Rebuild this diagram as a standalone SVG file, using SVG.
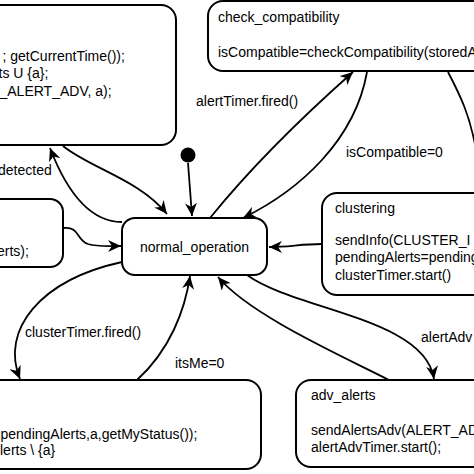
<svg xmlns="http://www.w3.org/2000/svg" width="474" height="474" viewBox="0 0 474 474">
<defs>
<style>
.box{fill:#fff;stroke:#000;stroke-width:2}
.t{font-family:"Liberation Sans",Arial,sans-serif;font-size:14px;fill:#000}
.c{fill:none;stroke:#000;stroke-width:1.8}
.a{marker-end:url(#arr)}
</style>
<marker id="arr" markerUnits="userSpaceOnUse" markerWidth="14" markerHeight="12" viewBox="0 0 14 12" refX="13" refY="6" orient="auto">
<path d="M0,0 L13,6 L0,12 L4,6 Z" fill="#000"/>
</marker>
</defs>
<rect width="474" height="474" fill="#fff"/>
<g id="connectors">
<path class="c a" d="M63,146 C90,168 140,180 167,214"/>
<path class="c a" d="M122,222 C95,222 70,200 50,148"/>
<path class="c a" d="M188,163 L192,216"/>
<path class="c a" d="M210,218 Q265,150 353,72"/>
<path class="c a" d="M367,72 C355,140 300,190 243,218"/>
<path class="c" d="M448,72 C460,95 470,115 476,150"/>
<path class="c a" d="M322,244 C300,244 290,247 269,247"/>
<path class="c a" d="M63,228 C80,226 76,240 88,244 C98,247 108,246 121,246"/>
<path class="c a" d="M122,262 C40,280 0,330 20,379"/>
<path class="c a" d="M137,380 C170,350 185,310 190,276"/>
<path class="c a" d="M389,380 C340,355 250,315 218,277"/>
<path class="c a" d="M247,275 C295,310 425,318 434,379"/>
</g>
<g id="initial"><circle cx="188" cy="155" r="7.5" fill="#000"/></g>
<g id="alert_detect">
<rect class="box" x="-20" y="5" width="196" height="140" rx="15"/>
<text class="t" x="2.5" y="61">; getCurrentTime());</text>
<text class="t" x="-1.5" y="78">ts U {a};</text>
<text class="t" x="-0.5" y="96">_ALERT_ADV, a);</text>
</g>
<g id="check_compatibility">
<rect class="box" x="208" y="1" width="300" height="70" rx="15"/>
<text class="t" x="218" y="22">check_compatibility</text>
<text class="t" x="218" y="57">isCompatible=checkCompatibility(storedA</text>
</g>
<g id="left_state">
<rect class="box" x="-20" y="199" width="83" height="68" rx="13"/>
<text class="t" x="-3" y="256">erts);</text>
</g>
<g id="normal_operation">
<rect class="box" x="122" y="218" width="145" height="57" rx="13"/>
<text class="t" x="194.5" y="252" text-anchor="middle">normal_operation</text>
</g>
<g id="clustering">
<rect class="box" x="322" y="193" width="200" height="102" rx="15"/>
<text class="t" x="335" y="213">clustering</text>
<text class="t" x="335" y="245">sendInfo(CLUSTER_I</text>
<text class="t" x="335" y="262">pendingAlerts=pending</text>
<text class="t" x="335" y="280">clusterTimer.start()</text>
</g>
<g id="bottom_left">
<rect class="box" x="-20" y="380" width="281" height="89" rx="15"/>
<text class="t" x="0.5" y="439">pendingAlerts,a,getMyStatus());</text>
<text class="t" x="0" y="455">lerts \ {a}</text>
</g>
<g id="adv_alerts">
<rect class="box" x="296" y="380" width="220" height="87" rx="15"/>
<text class="t" x="311" y="400">adv_alerts</text>
<text class="t" x="311" y="435">sendAlertsAdv(ALERT_AD</text>
<text class="t" x="311" y="452">alertAdvTimer.start();</text>
</g>
<g id="labels">
<text class="t" x="-2" y="175">detected</text>
<text class="t" x="196" y="106">alertTimer.fired()</text>
<text class="t" x="346" y="157">isCompatible=0</text>
<text class="t" x="25" y="337">clusterTimer.fired()</text>
<text class="t" x="175" y="368">itsMe=0</text>
<text class="t" x="421" y="342">alertAdv</text>
</g>
</svg>
